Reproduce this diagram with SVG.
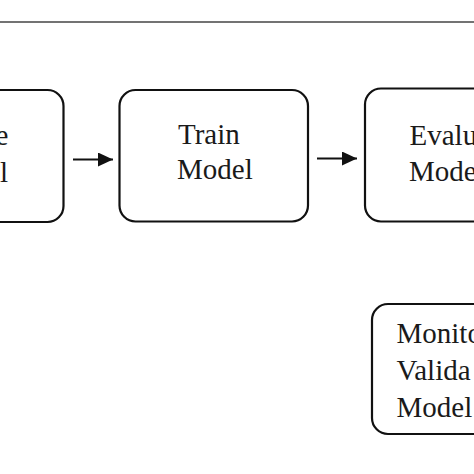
<svg xmlns="http://www.w3.org/2000/svg" width="474" height="474" viewBox="0 0 474 474">
<style>
.box{fill:#fff;stroke:#111;stroke-width:2.2}
.t{font-family:"Liberation Serif","Times New Roman",serif;font-size:29px;fill:#1a1a1a}
.c{stroke:#111;stroke-width:2.2;fill:none}
</style>
<defs>
<marker id="ah" markerWidth="15" markerHeight="14" refX="15" refY="7" orient="auto" markerUnits="userSpaceOnUse">
<path d="M0,0 L15,7 L0,14 Z" fill="#111"/>
</marker>
</defs>
<rect width="474" height="474" fill="#fff"/>
<line x1="0" y1="22" x2="474" y2="22" stroke="#444" stroke-width="1.5"/>
<g id="node-left">
<rect class="box" x="-30" y="90" width="93.5" height="132" rx="16"/>
<text class="t" x="-4.5" y="145">e</text>
<text class="t" x="0" y="182">l</text>
</g>
<g id="node-train">
<rect class="box" x="119.5" y="90" width="188.5" height="131.5" rx="16"/>
<text class="t" x="178" y="143.5">Train</text>
<text class="t" x="177" y="179">Model</text>
</g>
<g id="node-evaluate">
<rect class="box" x="365" y="88.5" width="140" height="133" rx="16"/>
<text class="t" x="409.5" y="145">Evalu</text>
<text class="t" x="409" y="181">Mode</text>
</g>
<g id="node-monitor">
<rect class="box" x="372" y="304" width="140" height="130" rx="16"/>
<text class="t" x="396.5" y="343">Monito</text>
<text class="t" x="396.5" y="380">Valida</text>
<text class="t" x="396.5" y="416.5">Model</text>
</g>
<g id="connectors">
<line class="c" x1="73" y1="159.5" x2="113" y2="159.5" marker-end="url(#ah)"/>
<line class="c" x1="317" y1="158.5" x2="357" y2="158.5" marker-end="url(#ah)"/>
</g>
</svg>
